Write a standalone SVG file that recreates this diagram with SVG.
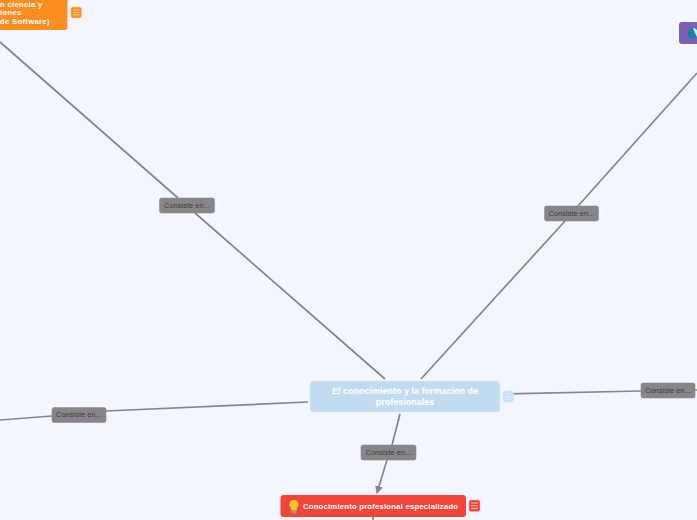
<svg xmlns="http://www.w3.org/2000/svg" width="697" height="520" viewBox="0 0 697 520">
<style>
text{font-family:"Liberation Sans",Arial,sans-serif}
.c{fill:none;stroke:#85858f;stroke-width:1.7}
.l rect{fill:#868689;stroke:#8f8f93;stroke-width:.6}
.l text{font-size:7.400px;fill:#3c3c40;text-anchor:middle;letter-spacing:.05px}
.w{font-weight:700;fill:#fff}
.o{font-size:7.600px;letter-spacing:.35px}
.m{stroke-width:.8;fill:none}
</style>
<defs><marker id="a" viewBox="0 0 8 8" refX="7" refY="4" markerWidth="8" markerHeight="8" orient="auto" markerUnits="userSpaceOnUse"><path d="M0 0L8 4L0 8Z" fill="#85858f"/></marker></defs>
<rect width="697" height="520" fill="#f3f6ff"/>
<g id="connectors">
<path class="c" d="M0 42L178 198M195 213L385 379"/>
<path class="c" d="M697 73L578 206M565 221L421 379"/>
<path class="c" d="M0 420L52 416M106 411L308 402"/>
<path class="c" d="M503 394L641 391M695 390L697 390"/>
<path class="c" d="M400 414L392 445M387 460L377 493" marker-end="url(#a)"/>
<path class="c" d="M373 517L373 520"/>
</g>
<g id="node-orange">
<rect x="-20" y="-6" width="87.500" height="36" rx="3" fill="#fb8d21"/>
<text class="w o" x="0" y="7">n ciencia y</text>
<text class="w o" x="0" y="15">iones</text>
<text class="w o" x="0" y="23.500">de Software)</text>
<rect x="71" y="7" width="10.500" height="11" rx="2" fill="#fb8d21" stroke="#fdc48e" stroke-width=".6"/>
<path class="m" stroke="#fdd9b5" d="M73 10H79.500M73 12.500H79.500M73 15H79.500"/>
</g>
<g id="node-purple">
<rect x="679" y="22" width="30" height="22" rx="3" fill="#7c5fae"/>
<circle cx="693" cy="33" r="5.500" fill="#1f7fa8"/>
<path d="M693 28a5.500 5.500 0 0 1 4 9l-2-4z" fill="#cfeef5"/>
</g>
<g id="node-center">
<rect x="310" y="381" width="190" height="31" rx="3" fill="#c1dcf0" stroke="#dcecf8" stroke-width=".6"/>
<text class="w" font-size="9" text-anchor="middle" x="405" y="393.500">El conocimiento y la formacion de</text>
<text class="w" font-size="9" text-anchor="middle" x="405" y="404.500">profesionales</text>
<rect x="503" y="391" width="10.500" height="11" rx="2" fill="#c8e0f2" stroke="#dcecf8" stroke-width=".6"/>
<path class="m" stroke="#e3f0fa" d="M505 394H511.500M505 396.500H511.500M505 399H511.500"/>
</g>
<g id="node-red">
<rect x="280.500" y="495" width="185.500" height="22" rx="3" fill="#f2453a"/>
<path d="M294 500a4.500 4.500 0 0 1 3 8l-.5 2.500h-5l-.5-2.500a4.500 4.500 0 0 1 3-8z" fill="#fcc32d"/>
<rect x="291.500" y="510.500" width="5" height="3" rx="1" fill="#9a9a9a"/>
<text class="w" font-size="7.700" x="303" y="509.300" textLength="155">Conocimiento profesional especializado</text>
<rect x="469" y="500" width="11" height="11.500" rx="2" fill="#f2453a" stroke="#f9a29c" stroke-width=".5"/>
<path class="m" stroke="#fde0dd" d="M471 503H478M471 505.700H478M471 508.400H478"/>
</g>
<g id="label-nw" class="l"><rect x="159.500" y="198" width="55" height="15" rx="2"/><text x="187" y="208">Consiste en...</text></g>
<g id="label-ne" class="l"><rect x="544.500" y="206" width="54" height="15" rx="2"/><text x="571.500" y="216">Consiste en...</text></g>
<g id="label-w" class="l"><rect x="52" y="407.500" width="54" height="15" rx="2"/><text x="79" y="417">Consiste en...</text></g>
<g id="label-e" class="l"><rect x="641" y="383" width="54" height="15" rx="2"/><text x="668" y="393">Consiste en...</text></g>
<g id="label-s" class="l"><rect x="361" y="445" width="55" height="15" rx="2"/><text x="388.500" y="455">Consiste en...</text></g>
</svg>
